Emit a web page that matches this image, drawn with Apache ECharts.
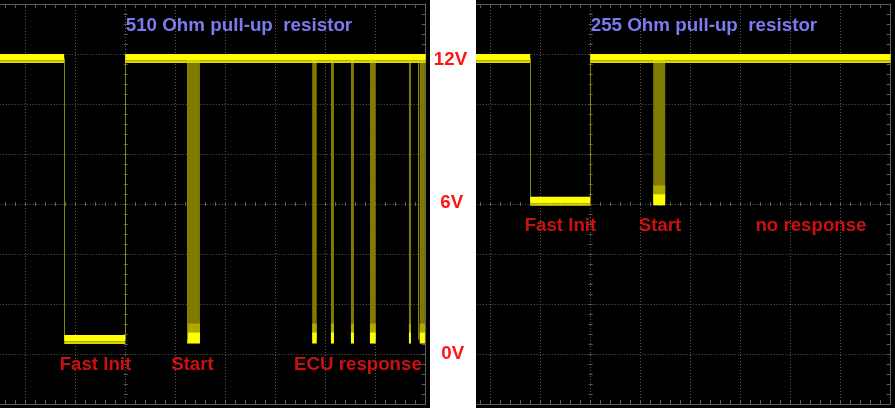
<!DOCTYPE html>
<html><head><meta charset="utf-8">
<script src="https://cdn.jsdelivr.net/npm/echarts@6/dist/echarts.min.js"></script>
<style>html,body{margin:0;padding:0;background:#000;}#c{width:895px;height:408px;}</style>
</head><body><div id="c"></div>
<script>
// ---- DATA (time in ms, 20 ms / division; voltage in volts) ----
const titles = ['510 Ohm pull-up  resistor', '255 Ohm pull-up  resistor'];
const voltTickLabels = ['12V', '6V', '0V'];

// Panel A : 510 Ohm pull-up
const levelsA = [[0, 35.4, 12], [35.4, 59.8, 0], [59.8, 180, 12]];           // [t0, t1, volts]
const edgesA  = [[35.4, 12, 0], [59.8, 12, 0], [84.6, 12, 0], [177.0, 12, 0]]; // [t, vHigh, vLow]
const burstsA = [[84.6, 89.7, 12, 0], [134.6, 136.4, 12, 0], [142.1, 143.3, 12, 0],
                 [150.1, 151.3, 12, 0], [157.7, 160.0, 12, 0], [173.3, 174.1, 12, 0],
                 [177.6, 179.7, 12, 0]];                                        // [t0, t1, vHigh, vLow]
const notesA  = ['Fast Init', 'Start', 'ECU response'];
const notesAT = [47.9, 86.7, 152.9];
const notesAV = [-1.1, -1.1, -1.1];

// Panel B : 255 Ohm pull-up
const levelsB = [[0, 35.8, 12], [35.8, 59.8, 5.9], [59.8, 180, 12]];
const edgesB  = [[35.8, 12, 5.9], [59.8, 12, 5.9]];
const burstsB = [[85.0, 89.8, 12, 5.9]];
const notesB  = ['Fast Init', 'Start', 'no response'];
const notesBT = [47.9, 87.7, 148.1];
const notesBV = [4.86, 4.86, 4.86];

// ---- LAYOUT / STYLE ----
const FONT = 'Liberation Sans, Arial, sans-serif';
const RED = '#ff1414', BLUE = '#7b7bf0', YEL = '#ffff00', OLIVE = '#807b00', EDGE = '#8a8600';
const BORDER = '#5e5e5e', GRIDC = '#5a5a5a';
const T_MIN = 0, T_MAX = 180, T_STEP = 20;
const V_MIN = -2.752, V_MAX = 14.327;
const gridLefts = [-24.3, 440.7];
const titleLefts = [125.7, 590.7];
const voltLabelX = [450.5, 451.7, 452.7], voltLabelY = [60, 203, 354];

const chart = echarts.init(document.getElementById('c'), null, {renderer: 'canvas'});

function tickStyle(len, inside) {
  return {
    axisTick: {show: true, inside: inside, length: len, lineStyle: {color: BORDER, width: 1}},
    minorTick: {show: true, splitNumber: 5, length: len, lineStyle: {color: BORDER, width: 1}}
  };
}
const xAxes = [], yAxes = [], grids = [];
gridLefts.forEach((gl, g) => {
  grids.push({left: gl, top: 4, width: 450, height: 400, outerBoundsMode: 'none', containLabel: false});
  const xb = {gridIndex: g, type: 'value', min: T_MIN, max: T_MAX, interval: T_STEP,
              axisLabel: {show: false}, splitLine: {show: false}};
  xAxes.push(Object.assign({}, xb, {position: 'bottom',
    axisLine: {show: true, onZero: false, lineStyle: {color: BORDER}},
    splitLine: {show: true, lineStyle: {color: GRIDC, type: [1, 2], width: 1}}}, tickStyle(4, true)));
  xAxes.push(Object.assign({}, xb, {position: 'top',
    axisLine: {show: true, onZero: false, lineStyle: {color: BORDER}}}, tickStyle(4, true)));
  xAxes.push(Object.assign({}, xb, {position: 'bottom', offset: -200,
    axisLine: {show: false, onZero: false}}, tickStyle(2, true)));
  xAxes.push(Object.assign({}, xb, {position: 'bottom', offset: -200,
    axisLine: {show: false, onZero: false}}, tickStyle(2, false)));

  const yb = {gridIndex: g, type: 'value', min: 0, max: 8, interval: 1,
              axisLabel: {show: false}, splitLine: {show: false}};
  yAxes.push(Object.assign({}, yb, {position: 'right',
    axisLine: {show: true, onZero: false, lineStyle: {color: BORDER}},
    splitLine: {show: true, lineStyle: {color: GRIDC, type: [1, 2], width: 1}}}, tickStyle(4, true)));
  yAxes.push(Object.assign({}, yb, {position: 'left', offset: -150,
    axisLine: {show: false, onZero: false}}, tickStyle(2, true)));
  yAxes.push(Object.assign({}, yb, {position: 'left', offset: -150,
    axisLine: {show: false, onZero: false}}, tickStyle(2, false)));
  yAxes.push({gridIndex: g, type: 'value', min: V_MIN, max: V_MAX, show: false});
});

function levelItem(params, api) {
  const a = api.coord([api.value(0), api.value(2)]);
  const b = api.coord([api.value(1), api.value(2)]);
  return {type: 'group', children: [
    {type: 'rect', shape: {x: a[0], y: a[1] - 4.5, width: b[0] - a[0], height: 6.5}, style: {fill: YEL}},
    {type: 'rect', shape: {x: a[0], y: a[1] + 2, width: b[0] - a[0], height: 2.5}, style: {fill: '#d8d400'}}
  ]};
}
function edgeItem(params, api) {
  const a = api.coord([api.value(0), api.value(1)]);
  const b = api.coord([api.value(0), api.value(2)]);
  const x = Math.round(a[0]) + 0.5;
  return {type: 'line', shape: {x1: x, y1: a[1], x2: x, y2: b[1]}, style: {stroke: EDGE, lineWidth: 1}};
}
function burstItem(params, api) {
  const a = api.coord([api.value(0), api.value(2)]);
  const b = api.coord([api.value(1), api.value(3)]);
  const w = b[0] - a[0];
  return {type: 'group', children: [
    {type: 'rect', shape: {x: a[0], y: a[1], width: w, height: b[1] - a[1]}, style: {fill: OLIVE}},
    {type: 'rect', shape: {x: a[0], y: b[1] - 16, width: w, height: 10}, style: {fill: '#b0aa00'}},
    {type: 'rect', shape: {x: a[0], y: b[1] - 7, width: w, height: 11}, style: {fill: YEL}}
  ]};
}
function noteSeries(xi, yi, names, ts, vs) {
  return {type: 'scatter', xAxisIndex: xi, yAxisIndex: yi, symbolSize: 1, silent: true,
    itemStyle: {color: 'rgba(0,0,0,0)'}, z: 10,
    data: names.map((n, i) => ({name: n, value: [ts[i], vs[i]]})),
    label: {show: true, position: 'inside', formatter: '{b}', color: RED, fontSize: 18.7,
            fontWeight: 'bold', fontFamily: FONT}};
}
const series = [];
[[levelsA, edgesA, burstsA, notesA, notesAT, notesAV], [levelsB, edgesB, burstsB, notesB, notesBT, notesBV]]
.forEach((p, g) => {
  const xi = g * 4, yi = g * 4 + 3;
  series.push({type: 'custom', xAxisIndex: xi, yAxisIndex: yi, renderItem: burstItem, data: p[2],
               encode: {x: [0, 1], y: [2, 3]}, silent: true, z: 3});
  series.push({type: 'custom', xAxisIndex: xi, yAxisIndex: yi, renderItem: edgeItem, data: p[1],
               encode: {x: 0, y: [1, 2]}, silent: true, z: 4});
  series.push({type: 'custom', xAxisIndex: xi, yAxisIndex: yi, renderItem: levelItem, data: p[0],
               encode: {x: [0, 1], y: 2}, silent: true, z: 5});
  series.push(noteSeries(xi, yi, p[3], p[4], p[5]));
});

chart.setOption({
  backgroundColor: '#000',
  animation: false,
  title: titles.map((t, i) => ({text: t, left: titleLefts[i], top: 16.4, padding: 0,
    textStyle: {color: BLUE, fontSize: 18.8, fontWeight: 'bold', fontFamily: FONT}})),
  grid: grids,
  xAxis: xAxes,
  yAxis: yAxes,
  series: series,
  graphic: [
    {type: 'rect', x: 430, y: 0, shape: {width: 46, height: 408}, style: {fill: '#fff'}, z: 100, silent: true}
  ].concat(voltTickLabels.map((t, i) => ({type: 'text', x: voltLabelX[i], y: voltLabelY[i], z: 101, silent: true,
    style: {text: t, fill: RED, fontSize: 18.7, fontWeight: 'bold', fontFamily: FONT, align: 'center', verticalAlign: 'middle'}})))
});
</script></body></html>
